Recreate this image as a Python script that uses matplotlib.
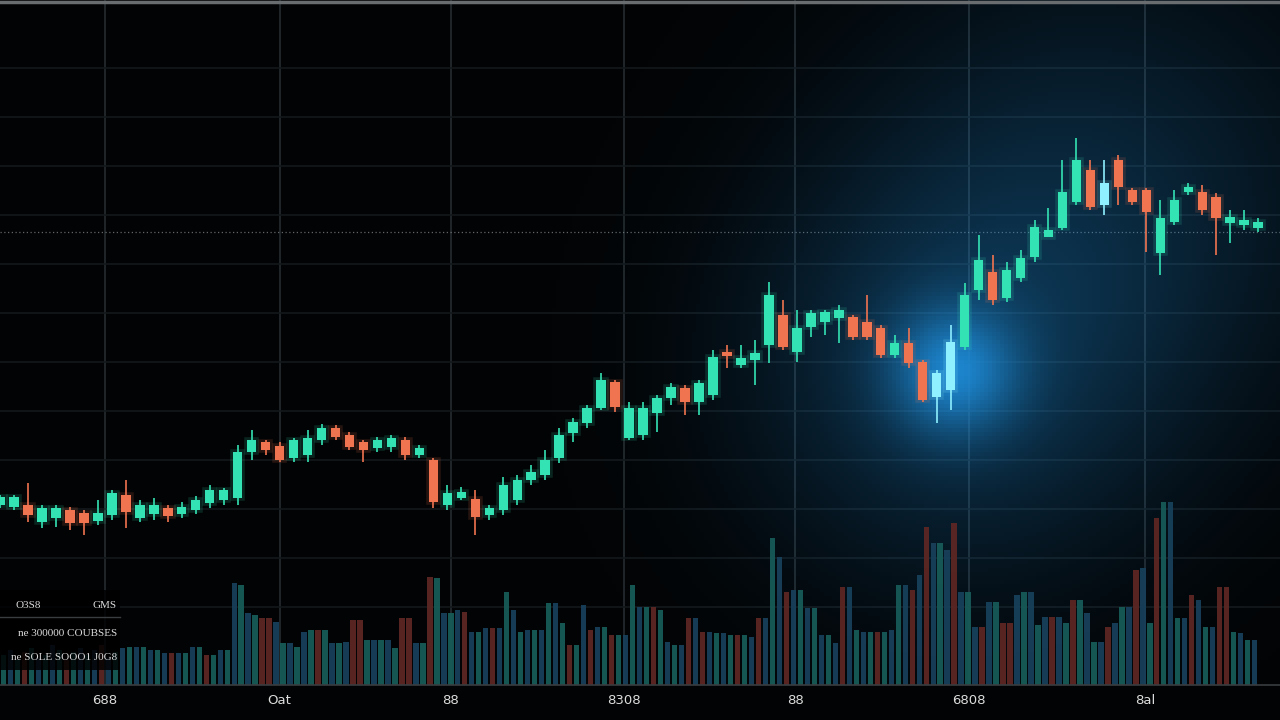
import matplotlib
matplotlib.use("Agg")
import matplotlib.pyplot as plt
import numpy as np
from matplotlib.patches import Rectangle

# candle data (price units), one entry per session
opens = [215, 213, 215, 198, 202, 210, 207, 199, 205, 225, 202, 206, 212, 206, 210, 217, 220, 222,
         268, 278, 274, 262, 265, 280, 292, 285, 278, 272, 273, 280, 265, 260, 215, 222, 221, 205,
         210, 220, 240, 245, 262, 287, 297, 312, 338, 282, 285, 307, 322, 332, 318, 325, 368, 355,
         360, 375, 405, 368, 393, 398, 402, 403, 398, 392, 365, 377, 358, 323, 330, 373, 430, 448,
         422, 442, 463, 483, 492, 518, 550, 515, 560, 530, 530, 467, 498, 528, 528, 523, 497, 495, 492]
highs = [225, 225, 237, 215, 215, 213, 210, 220, 230, 240, 220, 222, 215, 218, 224, 235, 232, 275,
         290, 280, 278, 282, 290, 296, 295, 288, 280, 283, 285, 283, 275, 262, 235, 233, 230, 215,
         243, 245, 255, 270, 292, 302, 315, 347, 340, 318, 318, 325, 337, 335, 340, 370, 375, 375,
         380, 438, 420, 410, 410, 410, 415, 405, 425, 395, 385, 392, 360, 350, 395, 437, 485, 465,
         458, 470, 500, 512, 560, 582, 560, 560, 565, 532, 532, 520, 530, 537, 535, 527, 510, 510, 502]
lows = [212, 210, 198, 192, 193, 190, 185, 195, 200, 192, 198, 200, 198, 202, 206, 212, 215, 215,
        260, 265, 258, 258, 258, 275, 280, 270, 258, 268, 268, 260, 262, 212, 210, 220, 185, 200,
        205, 215, 235, 240, 257, 278, 292, 310, 308, 280, 280, 288, 315, 305, 305, 320, 352, 352,
        335, 357, 370, 358, 383, 385, 377, 380, 380, 362, 362, 352, 318, 297, 310, 370, 420, 415,
        418, 438, 458, 483, 490, 515, 510, 505, 515, 515, 468, 445, 495, 525, 505, 465, 477, 490, 488]
closes = [223, 223, 205, 212, 212, 197, 197, 207, 227, 208, 215, 215, 204, 213, 220, 230, 230, 268,
          280, 270, 260, 280, 282, 292, 283, 273, 270, 280, 282, 265, 272, 218, 227, 228, 203, 212,
          235, 240, 248, 260, 285, 298, 312, 340, 313, 312, 312, 322, 333, 318, 337, 363, 364, 362,
          367, 425, 373, 392, 407, 408, 410, 383, 383, 365, 377, 357, 320, 347, 378, 425, 460, 420,
          450, 462, 493, 490, 528, 560, 513, 537, 533, 518, 508, 502, 520, 533, 510, 502, 503, 500, 498]
highlighted = [67, 68, 79]

# volume (two bars per session)
volumes = [30, 35, 25, 33, 37, 27, 30, 40, 35, 25, 33, 37, 30, 35, 40, 27, 33, 37,
           38, 38, 38, 35, 35, 32, 32, 32, 32, 38, 38, 30, 30, 35, 35,
           102, 100, 72, 70, 67, 67, 63, 42, 42, 38, 53, 55, 55, 55, 42, 42, 43,
           65, 65, 45, 45, 45, 45, 37, 67, 67, 42, 42, 108, 107, 72, 72, 75, 73, 53, 53, 57, 57, 57,
           93, 75, 53, 55, 55, 55, 82, 82, 62, 40, 40, 80, 55, 58, 58, 50, 50, 50, 100, 78, 78, 78,
           75, 43, 40, 40, 67, 67,
           53, 53, 52, 52, 50, 50, 50, 48, 67, 67, 147, 128, 93, 95, 95, 77, 77, 50, 50, 42, 98, 98,
           55, 53, 53, 53, 53, 55,
           100, 100, 95, 110, 158, 142, 142, 135, 162, 93, 93, 58, 58, 83, 83, 62, 62, 90, 93, 93,
           60, 68, 68, 68, 62, 85, 85, 72,
           43, 43, 58, 62, 78, 78, 115, 117, 62, 167, 183, 183, 67, 67, 90, 85, 58, 58, 98, 98,
           53, 52, 45, 45]
down_volume = [3, 9, 14, 24, 29, 37, 38, 45, 50, 51, 57, 58, 61, 66, 70, 81, 84, 87, 93, 98, 100,
               105, 108, 112, 120, 125, 130, 132, 136, 140, 143, 144, 150, 153, 158, 162, 165, 170,
               174, 175]

tick_labels = ["688", "Oat", "88", "8308", "88", "6808", "8al"]
tick_sessions = [7.5, 20.0, 32.25, 44.6, 56.9, 69.3, 81.9]
resistance = 488
volume_base = 35

step = 1280 / 91.56  # pixels per session
UP = "#34e3b4"
DOWN = "#f07450"
CYAN = "#8ff0ff"

fig = plt.figure(figsize=(12.8, 7.2), dpi=100, facecolor="#020304")
ax = fig.add_axes([0, 0, 1, 1])
ax.set_facecolor("#020304")
ax.set_xlim(0, 91.56)
ax.set_ylim(0, 720)
ax.axis("off")

# grid
for s in tick_sessions:
    ax.plot([s, s], [volume_base, 720], color="#22282b", lw=1.3, zorder=1)
for yy in np.arange(113, 700, 49):
    ax.plot([0, 91.56], [yy, yy], color="#14181a", lw=1.2, zorder=1)
ax.axhline(resistance, color="#8a8f92", lw=0.9, ls=(0, (1, 2)), alpha=0.7, zorder=2)

# glow
gx, gy = np.meshgrid(np.linspace(0, 1280, 320), np.linspace(0, 720, 180))
d1 = (gx - 955) ** 2 + (gy - 372) ** 2
d2 = (gx - 1110) ** 2 + (gy - 190) ** 2
alpha = (0.6 * np.exp(-d1 / (2 * 45 ** 2)) + 0.28 * np.exp(-d1 / (2 * 150 ** 2))
         + 0.2 * np.exp(-d2 / (2 * 170 ** 2)))
glow = np.zeros((180, 320, 4))
glow[..., 0] = 0.12
glow[..., 1] = 0.55
glow[..., 2] = 0.85
glow[..., 3] = np.clip(alpha, 0, 1)
ax.imshow(glow, extent=[0, 91.56, 0, 720], origin="upper", aspect="auto", zorder=2)

# volume bars
vol_x = np.arange(len(volumes)) / 2 + 0.25
vol_colors = []
for k in range(len(volumes)):
    if k in down_volume:
        vol_colors.append("#5c2623")
    elif k % 2:
        vol_colors.append("#18405a")
    else:
        vol_colors.append("#175a57")
ax.bar(vol_x, volumes, width=0.38, bottom=volume_base, color=vol_colors, alpha=0.95, zorder=3)

# candles
x = np.arange(len(opens))
for i in x:
    o, h, l, c = opens[i], highs[i], lows[i], closes[i]
    col = CYAN if i in highlighted else (UP if c >= o else DOWN)
    ax.plot([i, i], [l, h], color=col, lw=1.4, alpha=0.85, zorder=4, solid_capstyle="butt")
    lo, hi = min(o, c), max(o, c)
    ax.add_patch(Rectangle((i - 0.34, lo), 0.68, max(hi - lo, 3), facecolor=col,
                           edgecolor=col, lw=4, alpha=0.15, zorder=4))
    ax.add_patch(Rectangle((i - 0.34, lo), 0.68, max(hi - lo, 3), facecolor=col,
                           edgecolor="none", zorder=5))

# frame lines
ax.axhline(volume_base, color="#3a3d40", lw=1.2, zorder=6)
ax.axhline(718, color="#6a6d70", lw=2.5, zorder=6)
ax.add_patch(Rectangle((0, 0), 91.56, volume_base, facecolor="#020304", zorder=5))

# axis labels
for s, lab in zip(tick_sessions, tick_labels):
    ax.text(s, 20, lab, color="#dcdcdc", fontsize=9.5, ha="center", va="center",
            family="DejaVu Sans Condensed", zorder=7)

# info box
ax.add_patch(Rectangle((0, 50), 120 / step, 80, facecolor="#000000", alpha=0.82,
                       edgecolor="none", zorder=6))
ax.plot([0, 120 / step], [103, 103], color="#3a3d40", lw=1.0, zorder=7)
box_font = dict(color="#dadada", fontsize=8, family="Liberation Serif", zorder=8, va="center")
ax.text(28 / step, 115, "O3S8", ha="center", **box_font)
ax.text(117 / step, 115, "GMS", ha="right", **box_font)
ax.text(117 / step, 86, "ne 300000 COUBSES", ha="right", **box_font)
ax.text(117 / step, 62, "ne SOLE SOOO1 J0G8", ha="right", **box_font)

fig.savefig("out.png", dpi=100, facecolor=fig.get_facecolor())
